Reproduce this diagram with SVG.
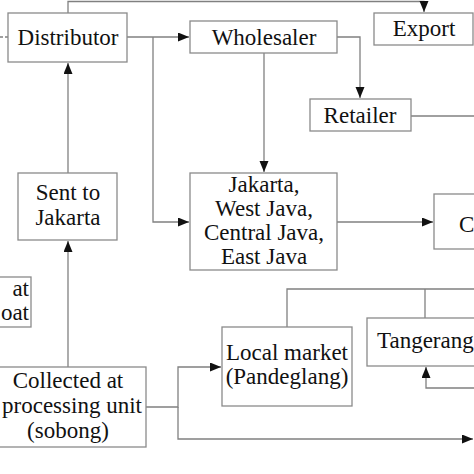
<svg xmlns="http://www.w3.org/2000/svg" width="474" height="474" viewBox="0 0 474 474">
<style>
.box{fill:#fff;stroke:#8a8a8a;stroke-width:1.3}
.ln{fill:none;stroke:#808080;stroke-width:1.3}
text{font-family:"Liberation Serif","Times New Roman",serif;font-size:23px;fill:#111}
.c{text-anchor:middle}
</style>
<defs>
<marker id="ah" markerUnits="userSpaceOnUse" markerWidth="12" markerHeight="10" refX="11" refY="4.5" orient="auto">
<path d="M0,0 L11,4.5 L0,9 Z" fill="#111"/>
</marker>
</defs>
<rect width="474" height="474" fill="#fff"/>
<g id="connectors">
<path class="ln" d="M68,13 V1.5 H424 V12" marker-end="url(#ah)"/>
<path class="ln" d="M0,37 H8" stroke-dasharray="3,2"/>
<path class="ln" d="M127,37 H189" marker-end="url(#ah)"/>
<path class="ln" d="M153,37 V222 H189" marker-end="url(#ah)"/>
<path class="ln" d="M337,37 H360 V98" marker-end="url(#ah)"/>
<path class="ln" d="M264,53 V172" marker-end="url(#ah)"/>
<path class="ln" d="M411,116 H474"/>
<path class="ln" d="M337,222 H433" marker-end="url(#ah)"/>
<path class="ln" d="M68,173 V63" marker-end="url(#ah)"/>
<path class="ln" d="M68,367 V241" marker-end="url(#ah)"/>
<path class="ln" d="M146,407 H178 V367 H221" marker-end="url(#ah)"/>
<path class="ln" d="M178,407 V439 H473" marker-end="url(#ah)"/>
<path class="ln" d="M287,327 V289 H474"/>
<path class="ln" d="M425,289 V318"/>
<path class="ln" d="M474,388 H426 V367" marker-end="url(#ah)"/>
</g>
<g id="distributor"><rect class="box" x="8" y="13" width="119" height="49"/><text class="c" x="68" y="45">Distributor</text></g>
<g id="wholesaler"><rect class="box" x="190" y="21" width="147" height="32"/><text class="c" x="264" y="45">Wholesaler</text></g>
<g id="export"><rect class="box" x="374" y="13" width="99" height="32"/><text class="c" x="424" y="36">Export</text></g>
<g id="retailer"><rect class="box" x="310" y="99" width="101" height="32"/><text class="c" x="360" y="123">Retailer</text></g>
<g id="regions"><rect class="box" x="190" y="173" width="147" height="97"/>
<text class="c" x="264" y="192">Jakarta,</text>
<text class="c" x="264" y="216">West Java,</text>
<text class="c" x="264" y="240">Central Java,</text>
<text class="c" x="264" y="264">East Java</text></g>
<g id="consumer"><rect class="box" x="434" y="194" width="50" height="55"/><text x="459" y="232">C</text></g>
<g id="sent"><rect class="box" x="18" y="173" width="99" height="67"/><text class="c" x="68" y="200">Sent to</text><text class="c" x="68" y="225">Jakarta</text></g>
<g id="boat"><rect class="box" x="-20" y="277" width="51" height="50"/><text x="29" y="296" text-anchor="end">at</text><text x="29" y="320" text-anchor="end">oat</text></g>
<g id="collected"><rect class="box" x="-10" y="367" width="156" height="80"/>
<text class="c" x="68" y="388">Collected at</text>
<text class="c" x="72" y="413">processing unit</text>
<text class="c" x="68" y="438">(sobong)</text></g>
<g id="local"><rect class="box" x="222" y="327" width="130" height="79"/><text class="c" x="287" y="360">Local market</text><text class="c" x="287" y="384">(Pandeglang)</text></g>
<g id="tangerang"><rect class="box" x="367" y="318" width="120" height="48"/><text x="377" y="348">Tangerang</text></g>
</svg>
